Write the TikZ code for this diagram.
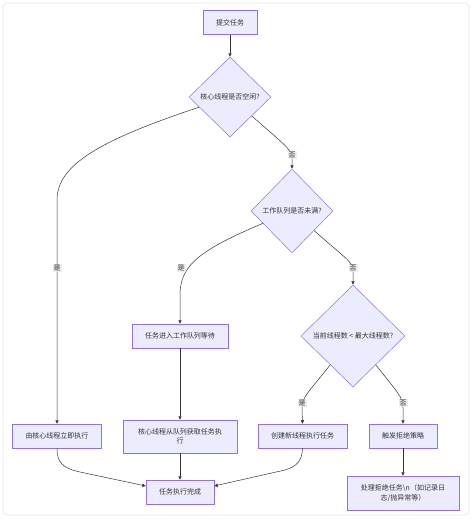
\documentclass[tikz,border=0pt]{standalone}
\usepackage{fontspec}
\newfontfamily\cjk{Noto Sans CJK SC}
\usetikzlibrary{shapes.geometric,arrows.meta}
\definecolor{nodefill}{HTML}{ECECFF}
\definecolor{nodeline}{HTML}{9370DB}
\definecolor{edgeline}{HTML}{333333}
\definecolor{txt}{HTML}{333333}
\definecolor{lblbg}{HTML}{E8E8E8}
\definecolor{framecol}{HTML}{E6E6E6}
\begin{document}
\begin{tikzpicture}[x=1pt,y=-1pt,
  every node/.style={font=\cjk\fontsize{7}{9.5}\selectfont, text=txt},
  box/.style={draw=nodeline, fill=nodefill, line width=0.5pt, minimum height=24pt, inner sep=2pt, align=center},
  dec/.style={draw=nodeline, fill=nodefill, line width=0.5pt, diamond, inner sep=0pt, align=center},
  arr/.style={draw=edgeline, line width=0.5pt, -{Triangle[length=3.5pt,width=3.2pt]}},
  lbl/.style={fill=lblbg, fill opacity=0.8, text opacity=1, inner sep=1pt}]
\useasboundingbox (0,0) rectangle (474,523);
\draw[framecol, line width=0.8pt, rounded corners=4pt] (3,3) rectangle (469,515);

\node[box, minimum width=54pt] (submit) at (230,22.5) {提交任务};
\node[dec, minimum width=82pt, minimum height=80pt] (d1) at (230,97) {核心线程是否空闲?};
\node[dec, minimum width=82pt, minimum height=84pt] (d2) at (292,211) {工作队列是否未满?};
\node[dec, minimum width=104pt, minimum height=102pt] (d3) at (353,336) {当前线程数 < 最大线程数?};
\node[box, minimum width=96pt] (queue) at (180,336) {任务进入工作队列等待};
\node[box, minimum width=89pt] (core) at (57,436) {由核心线程立即执行};
\node[box, minimum width=114pt, minimum height=33pt] (fetch) at (180,436.5) {核心线程从队列获取任务执\\行};
\node[box, minimum width=89pt] (create) at (302.5,436) {创建新线程执行任务};
\node[box, minimum width=68pt] (reject) at (403,436) {触发拒绝策略};
\node[box, minimum width=112pt, minimum height=34pt] (handle) at (403,493) {处理拒绝任务\textbackslash n（如记录日\\志/抛异常等）};
\node[box, minimum width=68pt] (done) at (180,492) {任务执行完成};

\draw[arr] (submit) -- (d1);
\draw[arr] (d1) .. controls (100,140) and (57,165) .. (57,200) -- (core.north);
\draw[arr] (d1) .. controls (285,145) and (292,150) .. (292,158) -- (d2.north);
\draw[arr] (d2) .. controls (200,250) and (180,265) .. (180,295) -- (queue.north);
\draw[arr] (d2) .. controls (345,258) and (353,262) .. (353,270) -- (d3.north);
\draw[arr] (d3) .. controls (308,393) and (302,397) .. (302,408) -- (create.north);
\draw[arr] (d3) .. controls (398,393) and (403,397) .. (403,408) -- (reject.north);
\draw[arr] (reject) -- (handle);
\draw[arr] (queue) -- (fetch);
\draw[arr] (fetch) -- (done);
\draw[arr] (core.south) .. controls (57,462) and (62,468) .. (80,472) -- (done.170);
\draw[arr] (create.south) .. controls (302,460) and (298,466) .. (285,470) -- (done.10);

\node[lbl] (l1) at (57,268) {是};
\node[lbl] (l2) at (292,155) {否};
\node[lbl] (l3) at (181,268) {是};
\node[lbl] (l4) at (353,268) {否};
\node[lbl] (l5) at (302,403) {是};
\node[lbl] (l6) at (403,403) {否};
\end{tikzpicture}
\end{document}
